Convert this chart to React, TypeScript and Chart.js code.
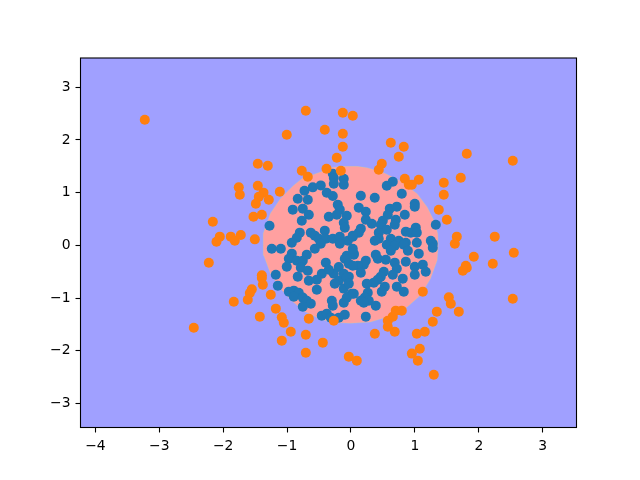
import React, { useEffect, useRef } from 'react';
import Chart from 'chart.js/auto';

type Pt = { x: number; y: number };

const xLimits = [-4.233, 3.529];
const yLimits = [-3.454, 3.553];
const xTicks = [-4, -3, -2, -1, 0, 1, 2, 3];
const yTicks = [-3, -2, -1, 0, 1, 2, 3];

// class 0 region outline
const boundary: number[][] = [
  [-1.374, 0], [-1.374, 0.227], [-1.26, 0.607], [-1.103, 0.891], [-0.9, 1.137], [-0.764, 1.27],
  [-0.477, 1.39], [-0.32, 1.47], [-0.164, 1.498], [0.097, 1.498], [0.254, 1.473], [0.513, 1.378],
  [0.775, 1.219], [1.036, 0.98], [1.192, 0.726], [1.296, 0.474], [1.358, 0.227], [1.365, 0],
  [1.349, -0.284], [1.244, -0.631], [1.088, -0.948], [0.88, -1.17], [0.618, -1.34], [0.305, -1.454],
  [-0.008, -1.479], [-0.32, -1.46], [-0.508, -1.384], [-0.71, -1.264], [-0.93, -1.05], [-1.103, -0.821],
  [-1.26, -0.536], [-1.365, -0.19], [-1.374, 0],
];

const innerPoints: number[][] = [
  [-1.275, 0.373], [-0.728, 1.037], [-0.598, 1.1], [-0.473, 1.137], [-0.833, 0.885], [-0.676, 0.866],
  [-0.911, 0.677], [-0.754, 0.696], [-0.66, 0.582], [-0.77, 0.468], [-0.285, 1.359], [-0.269, 1.276],
  [-0.269, 1.17], [-0.113, 1.264], [-0.113, 1.151], [-0.379, 0.999], [-0.285, 0.935], [-0.207, 0.772],
  [-0.175, 0.677], [-0.347, 0.544], [-0.222, 0.582], [-0.066, 0.563], [-0.113, 0.43], [-0.097, 0.336],
  [-0.801, 0.241], [-0.848, 0.146], [-0.926, 0.051], [-0.629, 0.241], [-0.566, 0.184], [-0.504, 0.127],
  [-0.41, 0.279], [-0.394, 0.127], [-0.285, 0.127], [-0.175, 0.165], [-0.05, 0.089], [0.028, 0.165],
  [-0.473, 0.032], [0.154, 0.942], [0.372, 0.904], [0.795, 0.98], [0.654, 1.208], [0.56, 1.132],
  [0.998, 0.79], [0.998, 0.734], [1.327, 0.392], [0.122, 0.715], [0.232, 0.639], [0.232, 0.487],
  [0.326, 0.411], [0.607, 0.696], [0.717, 0.734], [0.576, 0.582], [0.842, 0.582], [0.701, 0.487],
  [0.685, 0.392], [0.498, 0.468], [0.466, 0.392], [0.56, 0.298], [0.435, 0.241], [0.435, 0.127],
  [0.372, 0.089], [0.154, 0.317], [0.122, 0.241], [0.028, 0.184], [0.858, 0.26], [1.014, 0.336],
  [0.936, 0.241], [1.03, 0.241], [1.249, 0.089], [0.623, 0.127], [0.748, 0.089], [0.858, 0.051],
  [1.03, 0.051], [1.28, 0.032], [1.28, -0.044], [0.56, 0.013], [0.685, -0.006], [0.623, -0.101],
  [0.826, 0.013], [0.89, -0.101], [1.061, -0.157], [0.044, -0.176], [-0.066, -0.195], [0.388, -0.176],
  [0.419, -0.253], [0.545, -0.271], [0.232, -0.29], [0.2, -0.366], [0.106, -0.385], [0.154, -0.518],
  [0.685, -0.328], [0.717, -0.442], [0.858, -0.309], [0.998, -0.404], [1.124, -0.366], [0.998, -0.556],
  [1.17, -0.499], [0.81, -0.631], [0.654, -0.556], [0.717, -0.783], [0.826, -0.878], [0.513, -0.499],
  [0.466, -0.593], [0.419, -0.65], [0.357, -0.707], [0.247, -0.726], [0.529, -0.783], [0.482, -0.878],
  [-0.034, -0.593], [0.263, -0.897], [0.216, -0.991], [0.154, -1.049], [0.279, -1.049], [0.388, -1.143],
  [0.013, -0.916], [-0.066, -0.991], [0.232, -1.352], [-1.24, -0.063], [-1.098, -0.063], [-1.177, -0.556],
  [-1.145, -0.764], [-0.926, -0.157], [-0.973, -0.253], [-1.005, -0.404], [-0.848, -0.29], [-0.692, -0.176],
  [-0.754, -0.29], [-0.785, -0.423], [-0.676, -0.48], [-0.833, -0.593], [-0.66, -0.669], [-0.535, -0.84],
  [-0.457, -0.537], [-0.535, -0.65], [-0.394, -0.328], [-0.973, -0.878], [-0.895, -0.859], [-0.817, -0.897],
  [-0.895, -0.973], [-0.754, -0.991], [-0.692, -1.049], [-0.629, -1.105], [-0.754, -1.162], [-0.3, -1.049],
  [-0.285, -1.143], [-0.113, -1.086], [0.044, -0.916], [-0.457, -1.333], [-0.379, -1.295], [-0.316, -1.371],
  [-0.097, -1.314], [-0.191, -1.371], [-0.269, -0.537], [-0.191, -0.669], [-0.254, -0.726], [-0.113, -0.82],
  [-0.191, -0.411], [-0.113, -0.537], [-0.066, -0.612], [-0.034, -0.726], [-0.097, -0.253], [-0.034, -0.347],
  [0.028, -0.385], [-0.347, -0.461], [-0.566, -0.063], [-0.175, 0.032], [0.044, -0.157],
  [0.028, -0.063], [0.2, -1.086],
];

const outerPoints: number[][] = [
  [-3.227, 2.383], [-0.707, 2.553], [-0.41, 2.193], [-1.005, 2.098], [-1.458, 1.548], [-1.302, 1.51],
  [-0.77, 1.415], [-0.676, 1.302], [-0.383, 1.453], [-1.756, 1.1], [-1.74, 0.96], [-1.458, 1.13],
  [-1.369, 1.0], [-1.443, 0.92], [-1.114, 1.017], [-1.286, 0.866], [-1.489, 0.79], [-1.526, 0.544],
  [-1.395, 0.582], [-2.162, 0.449], [-2.053, 0.165], [-2.105, 0.07], [-1.881, 0.165], [-1.818, 0.089],
  [-1.724, 0.195], [-1.505, 0.114], [-2.225, -0.329], [-1.395, -0.569], [-1.395, -0.62], [-1.38, -0.746],
  [-1.552, -0.834], [-1.583, -0.903], [-1.615, -1.03], [-1.834, -1.068], [-1.255, -0.935], [-1.176, -1.2],
  [-1.427, -1.352], [-1.083, -1.365], [-1.051, -1.466], [-0.942, -1.637], [-1.083, -1.807], [-0.707, -1.694],
  [-0.66, -1.39], [-0.441, -1.845], [-0.707, -2.035], [-2.46, -1.561], [-0.128, 2.515], [0.028, 2.458],
  [-0.128, 2.117], [-0.128, 1.871], [-0.222, 1.662], [-0.159, 1.416], [0.623, 1.947], [0.826, 1.871],
  [0.748, 1.68], [0.482, 1.548], [0.435, 1.435], [1.812, 1.738], [2.532, 1.605], [1.718, 1.283],
  [0.842, 1.264], [1.061, 1.245], [0.905, 1.15], [0.952, 1.15], [1.452, 1.188], [1.452, 0.961],
  [1.374, 0.676], [1.5, 0.487], [1.656, 0.165], [1.625, 0.032], [2.25, 0.165], [2.548, -0.139],
  [1.922, -0.215], [2.219, -0.348], [1.797, -0.385], [1.812, -0.423], [1.75, -0.48], [2.532, -1.011],
  [1.124, -0.878], [1.531, -0.986], [1.562, -1.106], [1.687, -1.257], [1.343, -1.257], [1.28, -1.447],
  [1.155, -1.637], [1.03, -1.675], [0.685, -1.637], [0.373, -1.675], [0.576, -1.542], [0.576, -1.428],
  [0.654, -1.352], [0.701, -1.238], [0.795, -1.238], [-0.269, -1.428], [1.077, -1.959], [0.952, -2.053],
  [1.046, -2.186], [1.296, -2.452], [-0.034, -2.11], [0.091, -2.186],
];

const toPts = (rows: number[][]): Pt[] => rows.map(([x, y]) => ({ x, y }));

const tickFont = { family: '"DejaVu Sans"', size: 13.9 };
const tickLabel = (v: any) => String(v).replace('-', '\u2212');

// contourf background and the four spines
const framePlugin = {
  id: 'frame',
  beforeDatasetsDraw(chart: any) {
    const { ctx, chartArea: a } = chart;
    ctx.save();
    ctx.fillStyle = '#a0a0ff';
    ctx.fillRect(a.left, a.top, a.width, a.height);
    ctx.restore();
  },
  afterDatasetsDraw(chart: any) {
    const { ctx, chartArea: a } = chart;
    ctx.save();
    ctx.strokeStyle = '#000000';
    ctx.lineWidth = 1.1;
    ctx.strokeRect(a.left, a.top, a.width, a.height);
    ctx.restore();
  },
};

const App: React.FC = () => {
  const canvasRef = useRef<HTMLCanvasElement | null>(null);

  useEffect(() => {
    if (!canvasRef.current) return;
    const chart = new Chart(canvasRef.current, {
      type: 'scatter',
      data: {
        datasets: [
          {
            data: toPts(boundary),
            showLine: true,
            pointRadius: 0,
            borderWidth: 0.2,
            borderColor: '#a0ffa0',
            backgroundColor: '#ffa0a0',
            fill: 'shape',
            order: 3,
          },
          {
            data: toPts(innerPoints),
            pointRadius: 5,
            borderWidth: 0,
            backgroundColor: '#1f77b4',
            order: 2,
          },
          {
            data: toPts(outerPoints),
            pointRadius: 5,
            borderWidth: 0,
            backgroundColor: '#ff7f0e',
            order: 1,
          },
        ],
      } as any,
      options: {
        animation: false,
        responsive: false,
        devicePixelRatio: 1,
        layout: { padding: { top: 58, right: 63.5, left: 0, bottom: 0 } },
        plugins: { legend: { display: false }, tooltip: { enabled: false } },
        scales: {
          x: {
            type: 'linear',
            min: xLimits[0],
            max: xLimits[1],
            afterBuildTicks: (axis: any) => {
              axis.ticks = xTicks.map((value) => ({ value }));
            },
            afterFit: (axis: any) => {
              axis.height = 52.5;
            },
            border: { display: false },
            grid: { drawOnChartArea: false, tickLength: 5, tickWidth: 1.1, tickColor: '#000000' },
            ticks: { color: '#000000', font: tickFont, padding: 5.5, maxRotation: 0, callback: tickLabel },
          },
          y: {
            type: 'linear',
            min: yLimits[0],
            max: yLimits[1],
            afterBuildTicks: (axis: any) => {
              axis.ticks = yTicks.map((value) => ({ value }));
            },
            afterFit: (axis: any) => {
              axis.width = 80.5;
            },
            border: { display: false },
            grid: { drawOnChartArea: false, tickLength: 5, tickWidth: 1.1, tickColor: '#000000' },
            ticks: { color: '#000000', font: tickFont, padding: 5, callback: tickLabel },
          },
        },
      },
      plugins: [framePlugin],
    } as any);

    return () => {
      chart.destroy();
    };
  }, []);

  return (
    <div style={{ position: 'absolute', left: 0, top: 0 }}>
      <canvas ref={canvasRef} width={640} height={480} style={{ display: 'block' }}></canvas>
    </div>
  );
};

export default App;
